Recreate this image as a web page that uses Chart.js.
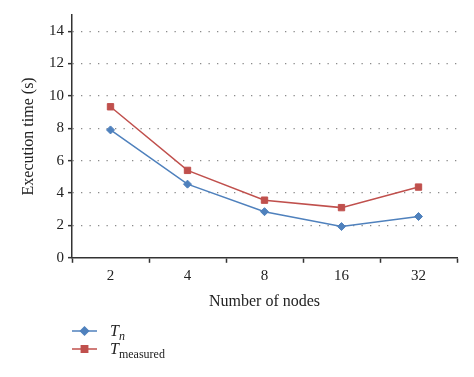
<!DOCTYPE html>
<html>
<head>
<meta charset="utf-8">
<script src="https://cdn.jsdelivr.net/npm/chart.js@4"></script>
<style>
  html, body { margin: 0; padding: 0; background: #fff; }
  #wrap { width: 474px; height: 377px; }
</style>
</head>
<body>
<div id="wrap"><canvas id="execChart"></canvas></div>
<script>
const nodes = ['2', '4', '8', '16', '32'];
const tn = [7.9, 4.55, 2.85, 1.93, 2.55];
const tMeasured = [9.33, 5.4, 3.56, 3.1, 4.37];
const yTicks = [0, 2, 4, 6, 8, 10, 12, 14];

const blue = '#4f81bd';
const red = '#c0504d';
const serif = '"Liberation Serif", "DejaVu Serif", serif';

// legend with subscripts, drawn below the axes
const subLegend = {
    id: 'subLegend',
    afterDraw(chart) {
        const ctx = chart.ctx;
        const items = [
            { color: blue, style: 'rectRot', main: 'T', sub: 'n', subItalic: true, y: 331 },
            { color: red, style: 'rect', main: 'T', sub: 'measured', subItalic: false, y: 349 }
        ];
        ctx.save();
        items.forEach(it => {
            ctx.strokeStyle = it.color;
            ctx.lineWidth = 1.5;
            ctx.beginPath();
            ctx.moveTo(72, it.y);
            ctx.lineTo(97, it.y);
            ctx.stroke();
            ctx.fillStyle = it.color;
            Chart.helpers.drawPoint(ctx, { pointStyle: it.style, radius: it.style === 'rect' ? 4.5 : 4, borderWidth: 1 }, 84.5, it.y);
            ctx.fillStyle = '#222';
            ctx.textBaseline = 'alphabetic';
            ctx.font = 'italic 16px ' + serif;
            ctx.fillText(it.main, 110, it.y + 5);
            const w = ctx.measureText(it.main).width;
            ctx.font = (it.subItalic ? 'italic ' : '') + '12px ' + serif;
            ctx.fillText(it.sub, 110 + w, it.y + 9);
        });
        ctx.restore();
    }
};

new Chart(document.getElementById('execChart'), {
    type: 'line',
    data: {
        labels: nodes,
        datasets: [{
            label: 'Tn',
            data: tn,
            borderColor: blue,
            backgroundColor: blue,
            borderWidth: 1.5,
            pointStyle: 'rectRot',
            pointRadius: 4,
            pointBorderWidth: 1,
            tension: 0
        }, {
            label: 'Tmeasured',
            data: tMeasured,
            borderColor: red,
            backgroundColor: red,
            borderWidth: 1.5,
            pointStyle: 'rect',
            pointRadius: 4.5,
            pointBorderWidth: 1,
            tension: 0
        }]
    },
    options: {
        responsive: true,
        maintainAspectRatio: false,
        animation: false,
        layout: { padding: { left: 19, right: 17, top: 15, bottom: 66 } },
        plugins: {
            legend: { display: false },
            tooltip: { enabled: false }
        },
        scales: {
            x: {
                offset: true,
                border: { color: '#333', width: 1.5 },
                grid: {
                    offset: true,
                    drawOnChartArea: false,
                    drawTicks: true,
                    tickLength: 5,
                    tickColor: '#333',
                    tickWidth: 1.5
                },
                ticks: {
                    color: '#222',
                    padding: 4,
                    font: { family: serif, size: 15 }
                },
                title: {
                    display: true,
                    text: 'Number of nodes',
                    color: '#222',
                    padding: { top: 3, bottom: 0 },
                    font: { family: serif, size: 16 }
                }
            },
            y: {
                min: 0,
                max: 15,
                afterBuildTicks(scale) {
                    scale.ticks = yTicks.map(v => ({ value: v }));
                },
                afterFit(scale) { scale.width = 53; },
                border: { color: '#333', width: 1.5, dash: [1.3, 7.2] },
                grid: {
                    color: ctx => ctx.tick && ctx.tick.value === 0 ? 'rgba(0,0,0,0)' : '#8a8a8a',
                    lineWidth: 1.3,
                    tickColor: '#333',
                    tickBorderDash: [],
                    tickLength: 4,
                    tickWidth: 1.5
                },
                ticks: {
                    color: '#222',
                    padding: 4,
                    font: { family: serif, size: 15 }
                },
                title: {
                    display: true,
                    text: 'Execution time (s)',
                    color: '#222',
                    padding: { top: 0, bottom: 4 },
                    font: { family: serif, size: 16 }
                }
            }
        }
    },
    plugins: [subLegend]
});
</script>
</body>
</html>
